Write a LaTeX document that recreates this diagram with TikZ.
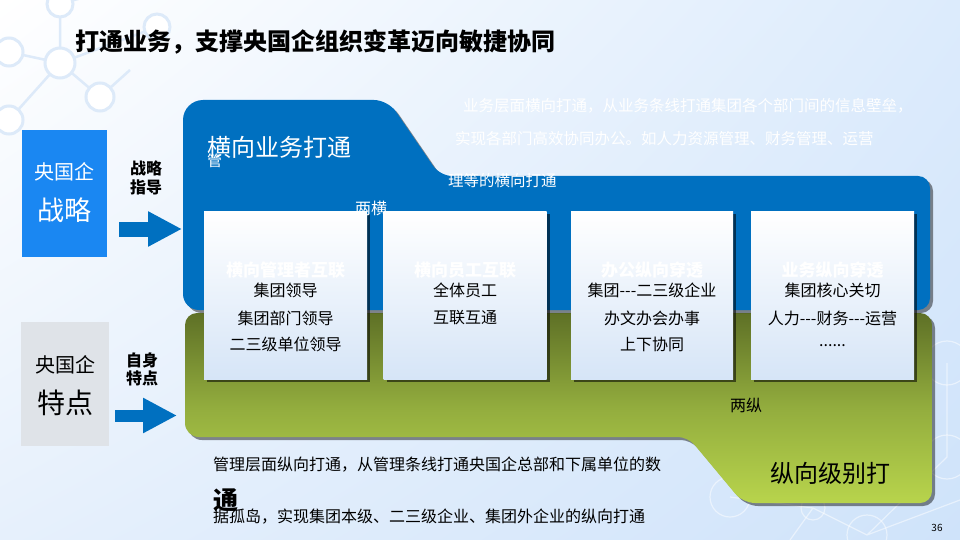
\documentclass[tikz,border=0pt]{standalone}
\usepackage{fontspec}
\setmainfont{Noto Sans CJK SC}[Ligatures=TeXOff]
\usetikzlibrary{shadows,shadings,arrows.meta}
\definecolor{bgtr}{HTML}{DCEBFC}
\definecolor{bgbl}{HTML}{E6F0FC}
\definecolor{bgbr}{HTML}{CFE3FA}
\definecolor{mainblue}{HTML}{0070C0}
\definecolor{boxblue}{HTML}{1A87F2}
\definecolor{boxgray}{HTML}{DFE3E8}
\definecolor{gtop}{HTML}{5E7026}
\definecolor{gmid}{HTML}{93AD3E}
\definecolor{gbot}{HTML}{B8D44C}
\definecolor{cardbot}{HTML}{D6E5F7}
\definecolor{deco}{HTML}{DDEAF9}
\begin{document}
\begin{tikzpicture}[x=1pt,y=-1pt,
  fs/.style={font=\fontsize{#1}{#1}\selectfont},
  fsb/.style={font=\fontsize{#1}{#1}\selectfont\bfseries},
  txt/.style={inner sep=0pt},
  card/.style={inner sep=0pt, minimum height=168pt, top color=white, bottom color=cardbot,
    drop shadow={shadow xshift=3pt, shadow yshift=-3pt, opacity=0.55, fill=black}},
  blockarrow/.style={draw=mainblue, -{Triangle[length=34pt,width=33pt]}},
  ring/.style={draw=deco, line width=3pt, fill=white},
  wring/.style={draw=white, line width=1.2pt, opacity=0.5},
]
\useasboundingbox (0,0) rectangle (960,540);
% background
\shade[upper left=white, upper right=bgtr, lower left=bgbl, lower right=bgbr] (0,0) rectangle (960,540);

% decoration top-left
\coordinate (d1) at (60,4);
\coordinate (d2) at (9,52);
\coordinate (d3) at (60,63);
\coordinate (d4) at (157,27);
\coordinate (d5) at (100,97);
\coordinate (d6) at (9,120);
\draw[deco, line width=2.5pt] (d1) -- (d3) (d2) -- (d3) -- (d4) (d3) -- (d5) (d6) -- (d3) (d1) -- (110,-10) (d5) -- (130,70);
\foreach \c/\r in {d1/13,d2/14,d3/15,d4/13,d5/14,d6/14} \draw[ring] (\c) circle (\r pt);

% decoration bottom-right
\coordinate (e1) at (947,363);
\coordinate (e2) at (947,457);
\coordinate (e3) at (730,497);
\coordinate (e4) at (867,535);
\coordinate (e5) at (813,508);
\draw[wring] (e3) -- (e5) -- (e4) -- (e2) -- (e1) (e4) -- (960,500) (e5) -- (790,540);
\foreach \c/\r in {e1/22,e2/22,e3/20,e4/20,e5/12} \draw[wring] (\c) circle (\r pt);

% title
\node[txt, fsb=24, anchor=west] (title) at (75,42) {打通业务，支撑央国企组织变革迈向敏捷协同};

% green shape
\path[drop shadow={shadow xshift=3pt, shadow yshift=-3pt, opacity=0.45, fill=black},
  top color=gtop, bottom color=gbot, middle color=gmid]
  [rounded corners=12pt] (185,380) -- (185,313) -- (932,313) -- (932,503) -- (743,503)
  [rounded corners=10pt] -- (688,437) [rounded corners=14pt] -- (185,437) -- cycle;

% blue shape
\path[fill=mainblue, drop shadow={shadow xshift=3pt, shadow yshift=-3pt, opacity=0.45, fill=black}]
  [rounded corners=20pt] (183,200) -- (183,100) [rounded corners=14pt] -- (388,100)
  [rounded corners=12pt] -- (440,176) -- (930,176) -- (930,310) [rounded corners=16pt] -- (183,310) -- cycle;

% faint paragraph
\node[txt, fs=15.5, white, anchor=west] (p1) at (463,106) {业务层面横向打通，从业务条线打通集团各个部门间的信息壁垒，};
\node[txt, fs=15.5, white, anchor=west] (p2) at (455,139) {实现各部门高效协同办公。如人力资源管理、财务管理、运营};
\node[txt, fs=15.5, white, anchor=west] (p3) at (448,181) {理等的横向打通};

\node[txt, fs=24, white, anchor=west] (hbt) at (207,147) {横向业务打通};
\node[txt, fs=15, white, anchor=west] (guan) at (207,161) {管};

% cards
\node[card, minimum width=163pt] (c1) at (285.5,295) {};
\node[card, minimum width=163pt] (c2) at (465,295) {};
\node[card, minimum width=162pt] (c3) at (652,295) {};
\node[card, minimum width=163pt] (c4) at (832.5,295) {};

\node[txt, fs=16, white, anchor=west] (lh) at (355,208) {两横};

\node[txt, fsb=17, white] (h1) at (285.5,270) {横向管理者互联};
\node[txt, fsb=17, white] (h2) at (465,270) {横向员工互联};
\node[txt, fsb=17, white] (h3) at (652,270) {办公纵向穿透};
\node[txt, fsb=17, white] (h4) at (832.5,270) {业务纵向穿透};

\node[txt, fs=16] (t11) at (285.5,290) {集团领导};
\node[txt, fs=16] (t12) at (285.5,318) {集团部门领导};
\node[txt, fs=16] (t13) at (285.5,344) {二三级单位领导};
\node[txt, fs=16] (t21) at (465,290) {全体员工};
\node[txt, fs=16] (t22) at (465,318) {互联互通};
\node[txt, fs=16] (t31) at (652,290) {集团---二三级企业};
\node[txt, fs=16] (t32) at (652,318) {办文办会办事};
\node[txt, fs=16] (t33) at (652,344) {上下协同};
\node[txt, fs=16] (t41) at (832.5,290) {集团核心关切};
\node[txt, fs=16] (t42) at (832.5,318) {人力---财务---运营};
\node[txt, fs=16] (t43) at (832.5,346) {......};

\node[txt, fs=16, anchor=west] (lz) at (730,405) {两纵};
\node[txt, fs=24] (zx) at (830,473) {纵向级别打};

% bottom text
\node[txt, fs=16, anchor=west] (b1) at (213,465) {管理层面纵向打通，从管理条线打通央国企总部和下属单位的数};
\node[txt, fsb=25, anchor=west] (b2) at (213,500) {通};
\node[txt, fs=16, anchor=west] (b3) at (213,517) {据孤岛，实现集团本级、二三级企业、集团外企业的纵向打通};

% left boxes
\node[inner sep=0pt, fill=boxblue, minimum width=85pt, minimum height=127pt] (s1) at (64.5,193.5) {};
\node[txt, fs=20, white] (s1a) at (64.5,172) {央国企};
\node[txt, fs=27, white] (s1b) at (64.5,210) {战略};
\node[inner sep=0pt, fill=boxgray, minimum width=88pt, minimum height=124pt] (s2) at (65,384) {};
\node[txt, fs=20] (s2a) at (65,365) {央国企};
\node[txt, fs=28] (s2b) at (65,403) {特点};

\node[txt, fsb=16] (l1a) at (146,168) {战略};
\node[txt, fsb=16] (l1b) at (146,187) {指导};
\node[txt, fsb=16] (l2a) at (142,360) {自身};
\node[txt, fsb=16] (l2b) at (142,378) {特点};

% arrows
\coordinate (a1s) at (119,229);
\coordinate (a1e) at (182,229);
\coordinate (a2s) at (115,415.5);
\coordinate (a2e) at (177,415.5);
\draw[blockarrow, line width=15pt] (a1s) -- (a1e);
\draw[blockarrow, line width=12pt] (a2s) -- (a2e);

\node[txt, fs=10] (pg) at (937,528) {36};
\end{tikzpicture}
\end{document}
